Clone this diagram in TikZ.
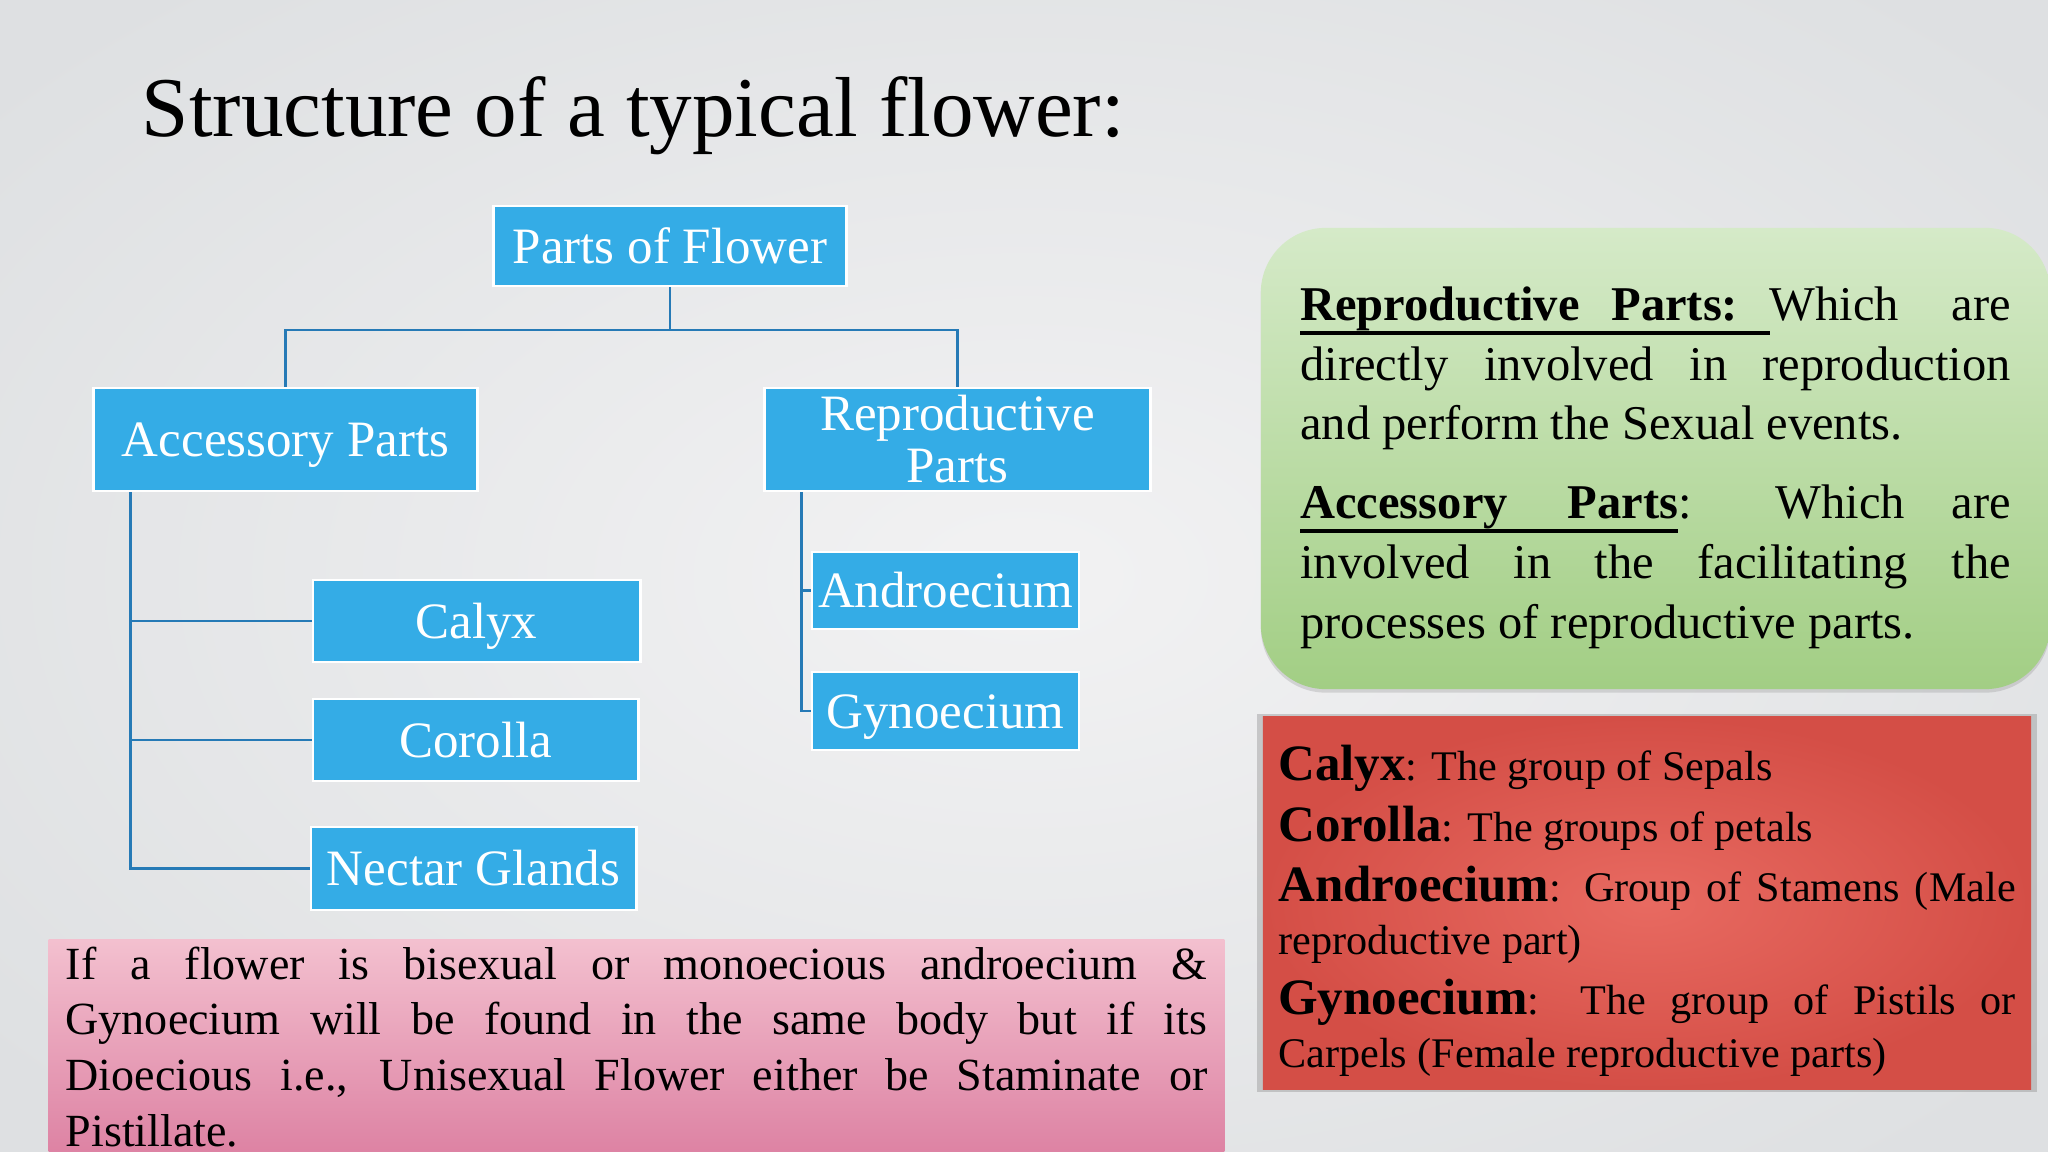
\documentclass[tikz,border=0pt]{standalone}
\usepackage{fontspec}
\setmainfont{Liberation Serif}
\usetikzlibrary{positioning,shadows}

\tolerance=10000
\hbadness=10000

\definecolor{bgpaper}{RGB}{242,242,243}
\definecolor{bgedge}{RGB}{222,224,226}
\definecolor{boxblue}{RGB}{52,172,230}
\definecolor{linkblue}{RGB}{38,122,182}
\definecolor{leafhi}{RGB}{213,234,200}
\definecolor{leaflo}{RGB}{162,206,132}
\definecolor{redhi}{RGB}{232,106,97}
\definecolor{redlo}{RGB}{212,78,70}
\definecolor{pinkhi}{RGB}{243,192,207}
\definecolor{pinklo}{RGB}{221,130,163}

\newcommand{\partterm}[1]{{\fontsize{14.5}{15}\selectfont\bfseries #1}}
\newcommand{\ulterm}[1]{\leavevmode\setbox0=\hbox{#1}\rlap{\rule[-\dimexpr\dp0+1.2pt\relax]{\wd0}{1.1pt}}\box0}

\begin{document}
\begin{tikzpicture}[x=0.01cm, y=-0.01cm,
    partbox/.style={fill=boxblue, draw=white, line width=0.8pt, text=white,
      inner sep=0pt, align=center, font=\fontsize{14.5}{14.8}\selectfont},
    oneline/.style={partbox, text height=10pt, text depth=0.2pt},
    link/.style={draw=linkblue, line width=0.6pt},
    notebox/.style={inner sep=0pt, align=justify},
    leafbox/.style={notebox, rounded corners=0.65cm, top color=leafhi, bottom color=leaflo,
      drop shadow={shadow xshift=0pt, shadow yshift=-1pt, opacity=0.25},
      text width=7.1cm, font=\fontsize{13.8}{17}\selectfont},
    redbox/.style={notebox, inner color=redhi, outer color=redlo,
      drop shadow={shadow xshift=0pt, shadow yshift=0pt, shadow scale=1.015, opacity=0.35},
      text width=7.37cm, font=\fontsize{12}{15}\selectfont},
    pinkbox/.style={notebox, top color=pinkhi, bottom color=pinklo,
      text width=11.41cm, font=\fontsize{13.1}{15.9}\selectfont},
  ]

  \clip (0,0) rectangle (2048,1152);
  \shade[inner color=bgpaper, outer color=bgedge] (-300,-200) rectangle (2348,1352);

  \node[anchor=base west, inner sep=0pt, font=\fontsize{24.2}{28}\selectfont] (title) at (141,137) {Structure of a typical flower:};

  % tree
  \node[oneline, minimum width=3.52cm, minimum height=0.8cm] (flower) at (670,246) {Parts of Flower};
  \node[oneline, minimum width=3.83cm, minimum height=1.03cm] (acc) at (285.5,439.5) {Accessory Parts};
  \node[partbox, minimum width=3.85cm, minimum height=1.03cm] (rep) at (957.5,439.5) {Reproductive\\Parts};

  \node[oneline, minimum width=3.27cm, minimum height=0.82cm] (calyx) at (476.5,621) {Calyx};
  \node[oneline, minimum width=3.25cm, minimum height=0.82cm] (corolla) at (475.5,740) {Corolla};
  \node[oneline, minimum width=3.25cm, minimum height=0.83cm] (nectar) at (473.5,868.5) {Nectar Glands};

  \node[oneline, minimum width=2.67cm, minimum height=0.77cm] (andro) at (945.5,590.5) {Androecium};
  \node[oneline, minimum width=2.67cm, minimum height=0.78cm] (gyno) at (945.5,711) {Gynoecium};

  \coordinate (fork) at (670,330);
  \draw[link] (flower) -- (fork) -| (acc);
  \draw[link] (fork) -| (rep);
  \foreach \c in {calyx,corolla,nectar}
    \draw[link] ([xshift=0.38cm]acc.south west) |- (\c);
  \foreach \c in {andro,gyno}
    \draw[link] ([xshift=0.38cm]rep.south west) |- (\c);

  % notes
  \node[leafbox, minimum width=7.89cm, minimum height=4.61cm] (leafnote) at (1655.5,458.5)
    {\rule{0pt}{14.7pt}\ulterm{\bfseries Reproductive\hspace{9pt}Parts:\hspace{9pt}}Which are\linebreak
     directly involved in reproduction\linebreak
     and perform the Sexual events.\par\vspace{5.4pt}
     \ulterm{\bfseries Accessory\hspace{17pt}Parts}: Which are\linebreak
     involved in the facilitating the\linebreak
     processes of reproductive parts.};

  \node[redbox, minimum width=7.68cm, minimum height=3.72cm] (partnote) at (1647,903)
    {\rule{0pt}{14.5pt}\partterm{Calyx}: The group of Sepals\par\vspace{2.2pt}
     \partterm{Corolla}: The groups of petals\par\vspace{2.2pt}
     \partterm{Androecium}: Group of Stamens (Male\linebreak
     reproductive part)\par\vspace{2.2pt}
     \partterm{Gynoecium}: The group of Pistils or\linebreak
     Carpels (Female reproductive parts)};

  \node[pinkbox, minimum width=11.75cm, minimum height=2.14cm] (sexnote) at (636.5,1047)
    {If a flower is bisexual or monoecious androecium \&\linebreak
     Gynoecium will be found in the same body but if its\linebreak
     Dioecious i.e., Unisexual Flower either be Staminate or\linebreak
     Pistillate.};

\end{tikzpicture}
\end{document}
